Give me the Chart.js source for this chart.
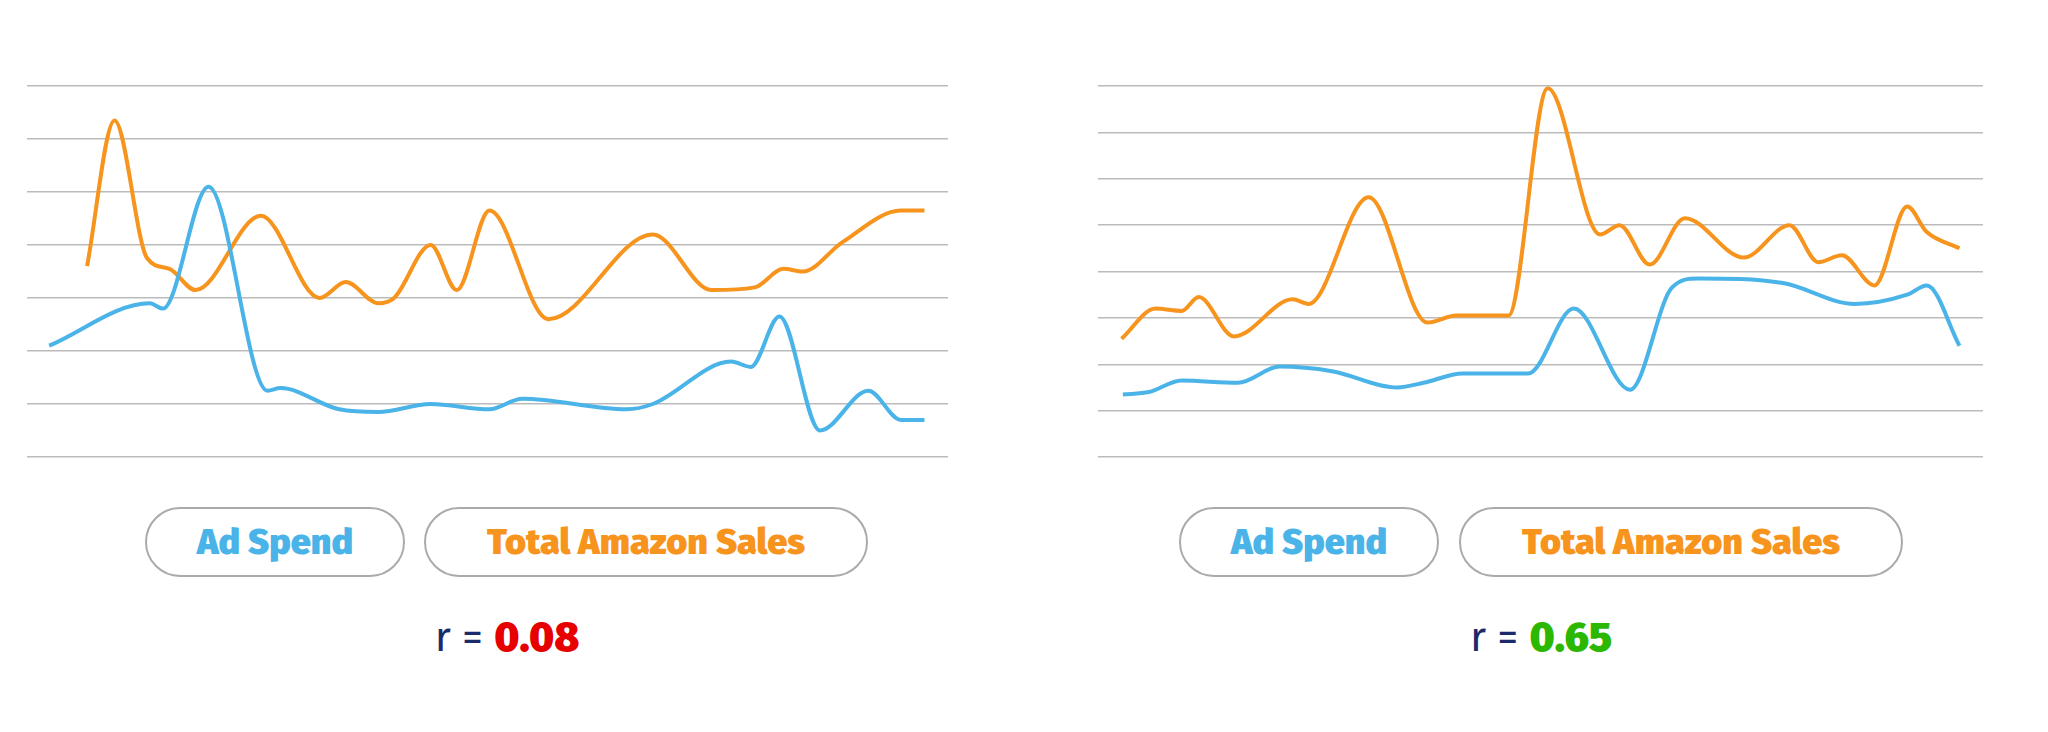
<!DOCTYPE html>
<html><head><meta charset="utf-8">
<script src="https://cdn.jsdelivr.net/npm/chart.js@4"></script>
<style>
body{margin:0;width:2048px;height:732px;background:#fff;position:relative;overflow:hidden;font-family:"Fira Sans",Lato,"Open Sans",sans-serif}
.c{position:absolute}
.pill{position:absolute;top:507px;height:66px;border:2px solid #aaa;border-radius:36px;display:flex;align-items:center;justify-content:center;font-weight:900;font-size:36px}
.r{position:absolute;top:612px;font-size:42px;color:#1b2a6b;transform:translateX(-50%)}
.r b{font-weight:900}
</style></head><body>
<div class="c" style="left:17px;top:76px;width:941px;height:391px"><canvas id="a"></canvas></div>
<div class="c" style="left:1088px;top:76px;width:905px;height:391px"><canvas id="b"></canvas></div>
<div class="pill" style="left:145px;width:256px;color:#4ab3e8">Ad Spend</div>
<div class="pill" style="left:424px;width:440px;color:#f7941d">Total Amazon Sales</div>
<div class="pill" style="left:1179px;width:256px;color:#4ab3e8">Ad Spend</div>
<div class="pill" style="left:1459px;width:440px;color:#f7941d">Total Amazon Sales</div>
<div class="r" style="left:507px">r = <b style="color:#e60000">0.08</b></div>
<div class="r" style="left:1541px">r = <b style="color:#2cb700">0.65</b></div>
<script>
const leftSalesX=[46,67,92,109,129,179,224,244,269,281,309,329,354,399,479,524,557,579,594,624,669,687];
const leftSales=[3.6,6.35,3.75,3.55,3.15,4.55,3.0,3.3,2.9,3.0,4.0,3.15,4.65,2.6,4.2,3.15,3.2,3.55,3.5,4.05,4.65,4.65];
const leftSpendX=[17,94,104,139,184,194,239,269,309,354,379,459,479,539,554,576,607,644,669,687];
const leftSpend=[2.1,2.9,2.8,5.1,1.25,1.3,0.9,0.85,1.0,0.9,1.1,0.9,1.0,1.8,1.7,2.65,0.5,1.25,0.7,0.7];
const rightSalesX=[18,44,64,77,104,149,161,207,252,274,314,344,384,399,422,449,494,529,551,569,594,619,634,659];
const rightSales=[2.55,3.2,3.15,3.45,2.6,3.4,3.3,5.6,2.9,3.05,3.05,7.95,4.8,5.0,4.15,5.15,4.3,5.0,4.2,4.35,3.7,5.4,4.85,4.5];
const rightSpendX=[19,39,64,107,139,179,229,249,279,329,364,407,439,459,524,579,619,634,659];
const rightSpend=[1.35,1.4,1.65,1.6,1.95,1.85,1.5,1.6,1.8,1.8,3.2,1.45,3.65,3.85,3.75,3.3,3.5,3.7,2.4];
const BLUE='#4ab3e8',ORANGE='#f7941d';
function pts(xs,ys){return xs.map((x,i)=>({x:x,y:ys[i]}));}
function make(id,sx,s,px,p,xmax,ymax){
 new Chart(document.getElementById(id),{type:'line',
  data:{datasets:[
   {data:pts(px,p),borderColor:BLUE,borderWidth:4,pointRadius:0,tension:0.4,cubicInterpolationMode:'monotone'},
   {data:pts(sx,s),borderColor:ORANGE,borderWidth:4,pointRadius:0,tension:0.4,cubicInterpolationMode:'monotone'}]},
  options:{responsive:true,maintainAspectRatio:false,animation:false,layout:{padding:10},
   plugins:{legend:{display:false},tooltip:{enabled:false}},
   scales:{x:{type:'linear',min:0,max:xmax,display:false},
    y:{min:0,max:ymax,ticks:{display:false,stepSize:1},border:{display:false},grid:{color:'#bbb',lineWidth:1.5,drawTicks:false}}}}});
}
make('a',leftSalesX,leftSales,leftSpendX,leftSpend,705,7);
make('b',rightSalesX,rightSales,rightSpendX,rightSpend,677,8);
</script></body></html>
